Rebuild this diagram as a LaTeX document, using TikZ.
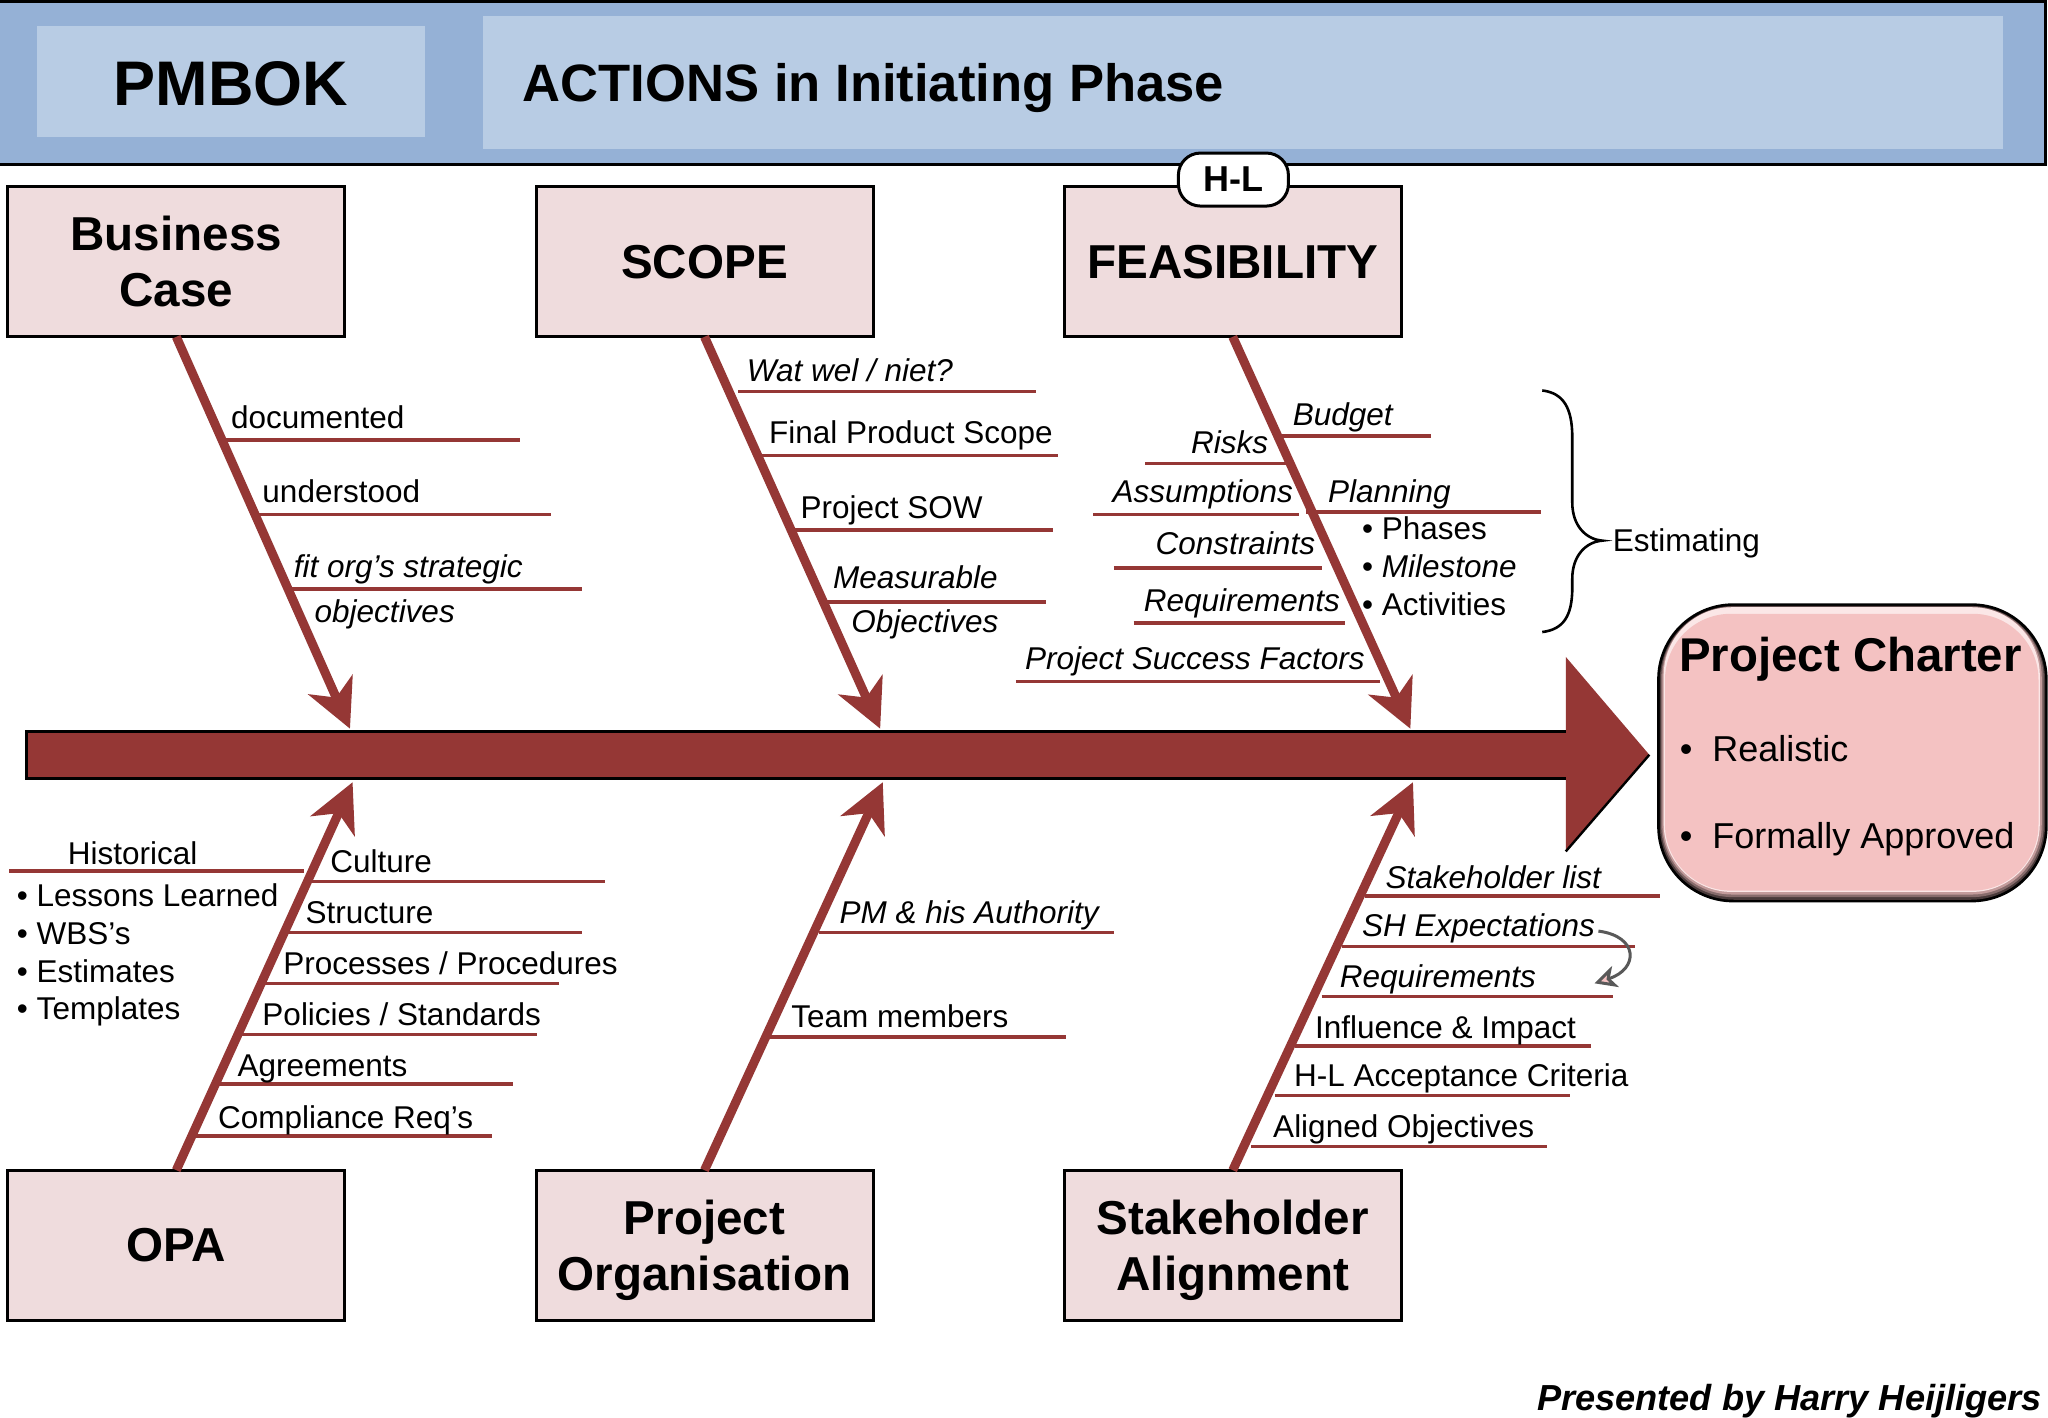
\documentclass[tikz,border=0pt]{standalone}
\usepackage{fontspec}
\setmainfont{Liberation Sans}
\usetikzlibrary{arrows.meta}
\definecolor{hdr}{HTML}{95B1D6}
\definecolor{hdrin}{HTML}{B8CCE4}
\definecolor{boxf}{HTML}{EFDCDD}
\definecolor{bone}{HTML}{953735}
\definecolor{chart}{HTML}{F4C2C2}
\tikzset{
  x=0.653pt,y=-0.653pt,
  catbox/.style={draw=black,line width=1.5pt,fill=boxf,minimum width=168.5pt,minimum height=75pt,inner sep=0pt,outer sep=0pt,align=center,font=\fontsize{23.8}{28}\selectfont\bfseries},
  boneline/.style={draw=bone,line width=4.5pt,-{Stealth[length=24pt,width=24pt,inset=7pt]}},
  ribline/.style={draw=bone,line width=1.7pt},
  lbl/.style={font=\fontsize{15.75}{18}\selectfont,inner sep=0pt,outer sep=0pt},
  itl/.style={font=\fontsize{15.75}{18}\selectfont\itshape,inner sep=0pt,outer sep=0pt},
}
\newcommand{\rib}[4]{\coordinate (#1a) at (#2,#4);\coordinate (#1b) at (#3,#4);\draw[ribline] (#1a) -- (#1b);}
\newcommand{\lab}[5][lbl]{\node[#1,anchor=base west] (#2) at (#3,{#4+8}) {#5};}
\newcommand{\labr}[5][itl]{\node[#1,anchor=base east] (#2) at (#3,{#4+8}) {#5};}
\begin{document}
\begin{tikzpicture}
\useasboundingbox (0,0) rectangle (1568.3,1085.7);
\fill[white] (0,0) rectangle (1568.3,1085.7);
% header
\fill[hdr] (0,1) rectangle (1566,126);
\draw[black,line width=1.5pt] (0,1) -- (1566,1) -- (1566,126) -- (0,126);
\node[fill=hdrin,minimum width=194pt,minimum height=55.5pt,inner sep=0pt] (pmbok) at (177,62.5) {};
\node[font=\fontsize{31.5}{36}\selectfont\bfseries,inner sep=0pt] (pmboktxt) at (177,64) {PMBOK};
\node[fill=hdrin,minimum width=760pt,minimum height=66.6pt,inner sep=0pt] (acts) at (952,63) {};
\node[font=\fontsize{26.3}{30}\selectfont\bfseries,inner sep=0pt,anchor=base west] (actstxt) at (400,78) {ACTIONS in Initiating Phase};
% spine
\fill[bone] (20,560) -- (1199,560) -- (1199,503) -- (1263,578) -- (1199,652) -- (1199,596) -- (20,596) -- cycle;
\draw[black,line width=1.5pt] (1199,560) -- (20,560) -- (20,596) -- (1199,596);
\draw[black,line width=1.2pt] (1199,652) -- (1263,578);
% category boxes
\node[catbox] (bc) at (135,200.5) {Business\\Case};
\node[catbox] (sc) at (539.5,200.5) {SCOPE};
\node[catbox] (fe) at (944,200.5) {FEASIBILITY};
\node[catbox] (op) at (135,953.5) {OPA};
\node[catbox] (po) at (539.5,953.5) {\rule{0pt}{22.5pt}Project\\Organisation};
\node[catbox] (sa) at (944,953.5) {\rule{0pt}{22.5pt}Stakeholder\\Alignment};
\node[draw=black,line width=1.5pt,fill=white,rounded corners=11pt,minimum width=55pt,minimum height=26.5pt,inner sep=0pt,font=\fontsize{18}{20}\selectfont\bfseries] (hl) at (944.5,137.5) {H-L};
% bones
\coordinate (t1) at (268,558);\coordinate (t2) at (674,558);\coordinate (t3) at (1080,558);
\coordinate (b1) at (270,599);\coordinate (b2) at (676,599);\coordinate (b3) at (1082,599);
\draw[boneline] (bc.south) -- (t1);
\draw[boneline] (sc.south) -- (t2);
\draw[boneline] (fe.south) -- (t3);
\draw[boneline] (op.north) -- (b1);
\draw[boneline] (po.north) -- (b2);
\draw[boneline] (sa.north) -- (b3);
% business case
\rib{r1}{172}{398}{337}\lab{l1}{177}{320}{documented}
\rib{r2}{198}{422}{394}\lab{l2}{201}{377}{understood}
\rib{r3}{222}{446}{451}\lab[itl]{l3}{225}{434}{fit org’s strategic}
\lab[itl]{l3b}{241}{469}{objectives}
% scope
\rib{r4}{565}{793}{300}\lab[itl]{l4}{572}{284}{Wat wel / niet?}
\rib{r5}{583}{810}{349}\lab{l5}{589}{332}{Final Product Scope}
\rib{r6}{608}{806}{406}\lab{l6}{613}{389}{Project SOW}
\rib{r7}{632}{801}{461}\lab[itl]{l7}{638}{443}{Measurable}
\lab[itl]{l7b}{652}{476}{Objectives}
% feasibility
\rib{r8}{982}{1096}{334}\lab[itl]{l8}{990}{318}{Budget}
\rib{r9}{877}{985}{355}\labr{l9}{971}{339}{Risks}
\rib{r10}{837}{995}{394}\labr{l10}{990}{377}{Assumptions}
\rib{r11}{1000}{1180}{392}\lab[itl]{l11}{1017}{377}{Planning}
\rib{r12}{853}{1012}{435}\labr{l12}{1007}{417}{Constraints}
\rib{r13}{868}{1030}{477}\labr{l13}{1026}{460}{Requirements}
\rib{r14}{778}{1057}{522}\labr{l14}{1045}{505}{Project Success Factors}
\lab{b1a}{1043}{405}{• Phases}
\node[lbl,anchor=base west] (b1b) at (1043,442) {• \textit{Milestone}};
\lab{b1c}{1043}{463}{• Activities}
\draw[black,line width=1.3pt] (1181,299) .. controls (1197,301) and (1204,312) .. (1204,335) -- (1204,385) .. controls (1204,402) and (1214,413) .. (1227,414) .. controls (1214,415) and (1204,426) .. (1204,443) -- (1204,450) .. controls (1204,472) and (1197,482) .. (1181,484);
\lab{est}{1235}{414}{Estimating}
% OPA
\rib{r15}{7}{233}{667}\lab{l15}{52}{654}{Historical}
\lab{o1}{13}{686}{• Lessons Learned}
\lab{o2}{13}{715}{• WBS’s}
\lab{o3}{13}{744}{• Estimates}
\lab{o4}{13}{773}{• Templates}
\rib{r16}{233}{463}{675}\lab{l16}{253}{660}{Culture}
\rib{r17}{218}{446}{714}\lab{l17}{234}{699}{Structure}
\rib{r18}{202}{428}{753}\lab{l18}{217}{738}{Processes / Procedures}
\rib{r19}{185}{411}{792}\lab{l19}{201}{777}{Policies / Standards}
\rib{r20}{168}{393}{830}\lab{l20}{182}{816}{Agreements}
\rib{r21}{150}{377}{870}\lab{l21}{167}{856}{Compliance Req’s}
% project org
\rib{r22}{627}{853}{714}\lab[itl]{l22}{643}{699}{PM \& his Authority}
\rib{r23}{590}{816}{794}\lab{l23}{606}{779}{Team members}
% stakeholder
\rib{r24}{1045}{1271}{686}\lab[itl]{l24}{1061}{672}{Stakeholder list}
\rib{r25}{1028}{1252}{725}\lab[itl]{l25}{1043}{709}{SH Expectations}
\rib{r26}{1012}{1235}{763}\lab[itl]{l26}{1026}{748}{Requirements}
\rib{r27}{992}{1218}{801}\lab{l27}{1007}{787}{Influence \& Impact}
\rib{r28}{976}{1202}{839}\lab{l28}{991}{824}{H-L Acceptance Criteria}
\rib{r29}{958}{1185}{878}\lab{l29}{975}{863}{Aligned Objectives}
\coordinate (ca) at (1224,713);\coordinate (cb) at (1221,753);
\draw[black!65,line width=1.5pt,-{Stealth[length=11pt,width=11pt,inset=3pt,fill=chart]}] (ca) .. controls (1255,717) and (1255,742) .. (cb);
% charter
\path[fill=black,rounded corners=38pt] (1269,462) rectangle (1568,691);
\path[fill=chart!30!black,rounded corners=37pt] (1271,464) rectangle (1566,689);
\path[fill=chart!55!black,rounded corners=36pt] (1272,464.5) rectangle (1565,687);
\path[fill=chart!80!black,rounded corners=35pt] (1273,465) rectangle (1563.5,685);
\path[fill=chart!40!white,rounded corners=34pt] (1274,465) rectangle (1562,683);
\path[fill=chart,rounded corners=33pt] (1275,470) rectangle (1561,682);
\node[font=\fontsize{23.7}{28}\selectfont\bfseries,inner sep=0pt,anchor=base] (pc) at (1417,514) {Project Charter};
\node[font=\fontsize{18}{20}\selectfont,inner sep=0pt,anchor=base west] (pc1) at (1286,583) {•\hspace{10pt}Realistic};
\node[font=\fontsize{18}{20}\selectfont,inner sep=0pt,anchor=base west] (pc2) at (1286,650) {•\hspace{10pt}Formally Approved};
\node[font=\fontsize{18.1}{22}\selectfont\bfseries\itshape,inner sep=0pt,anchor=base east] (foot) at (1564,1080) {Presented by Harry Heijligers};
\end{tikzpicture}
\end{document}
